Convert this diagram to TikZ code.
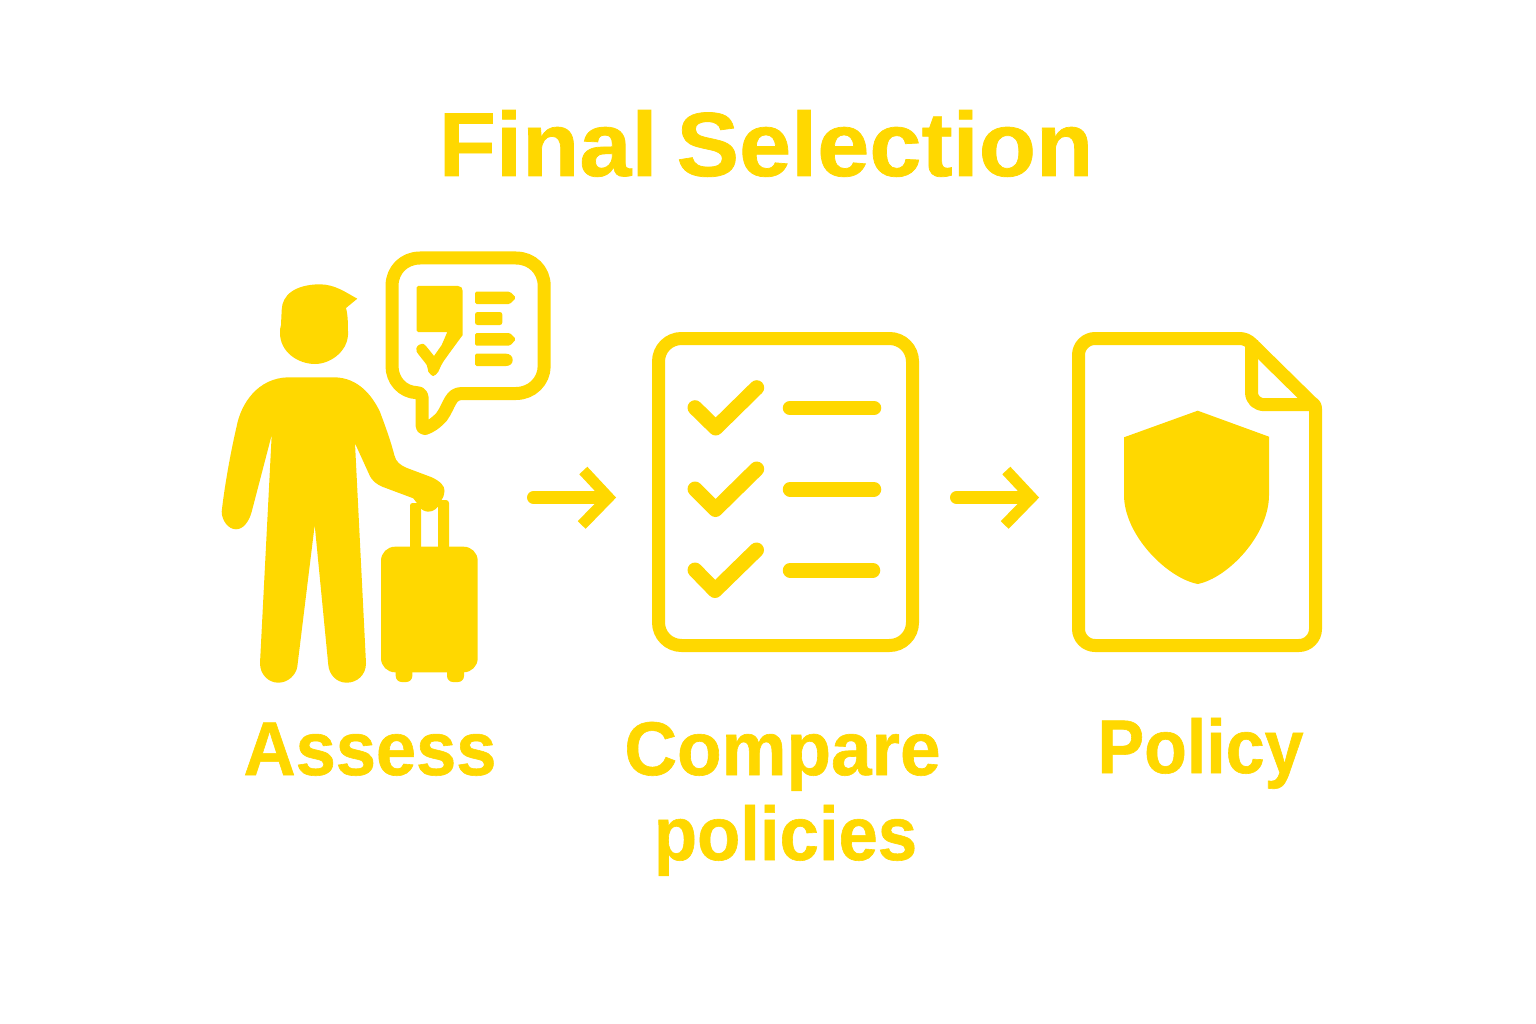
\documentclass[tikz,border=0pt]{standalone}
\usepackage{fontspec}
\setmainfont{Liberation Sans}[BoldFont={Liberation Sans Bold}]
\newfontfamily\labelfont{Liberation Sans Bold}[FakeBold=0.8]
\usetikzlibrary{calc}
\definecolor{gold}{HTML}{FFD800}
\newcommand{\capstretch}[1]{\addfontfeature{FakeStretch=#1}}
\tikzset{
  outline/.style={draw=gold,line width=13pt,line join=round},
  barline/.style={draw=gold,line width=14.5pt,line cap=round},
  tick/.style={draw=gold,line width=15pt,line cap=round,line join=round},
  shaft/.style={draw=gold,line width=13pt,line cap=round},
  chevron/.style={draw=gold,line width=11pt,line cap=butt,line join=miter},
  caption/.style={text=gold,inner sep=0pt,anchor=base,align=center,font=\labelfont\fontsize{76}{86}\selectfont},
}
\begin{document}
\begin{tikzpicture}[x=1pt,y=-1pt]
\useasboundingbox (0,0) rectangle (1536,1024);
% title
\node[caption,font=\labelfont\fontsize{91}{100}\selectfont] (title) at (766,176) {\capstretch{1.03}Final\hspace{-7pt} Selection};
% head
\fill[gold] (281,325) -- (281.7,310) .. controls (282,295) and (295,284.5) .. (320,284.3)
  .. controls (335,284.5) and (345,292) .. (357.3,298.7) -- (346,308)
  .. controls (348,315) and (348,325) .. (348,335)
  .. controls (347,352) and (330,364) .. (315,364)
  .. controls (298,364) and (280,352) .. (280,333)
  .. controls (280,330) and (280,328) .. (281,325) -- cycle;
% body
\fill[gold] (288.3,377.3) -- (335,377.3) .. controls (358,378) and (372,395) .. (380,412)
  .. controls (386,428) and (391,442) .. (394.3,455)
  .. controls (396,462) and (400,465) .. (407,468) -- (431,477)
  .. controls (440,481) and (445,486) .. (444.5,491)
  .. controls (444,496) and (443,498) .. (441,501)
  .. controls (439,508) and (433,512) .. (428,511.7)
  .. controls (424,511.5) and (421,509) .. (420.7,508) -- (413.3,498.3) -- (383,487)
  .. controls (376,484) and (372,481) .. (369,474) -- (355,443.3) -- (366,663.3)
  .. controls (366,675) and (357,682.7) .. (346.7,682.7)
  .. controls (336,682.7) and (329,674) .. (328.3,665) -- (314.7,525) -- (297.3,666.7)
  .. controls (296,675) and (288,682.7) .. (278.3,682.7)
  .. controls (268,682.7) and (260,674) .. (260,663.3) -- (271.7,435) -- (251.7,511.7)
  .. controls (249,522) and (243,529.3) .. (236,529.3)
  .. controls (228,529.3) and (221.7,520) .. (221.7,511.7)
  .. controls (224,490) and (230,455) .. (236.5,427)
  .. controls (241,403) and (258,378) .. (288.3,377.3) -- cycle;
% suitcase handle and case
\fill[gold,rounded corners=2.5pt] (410,503) rectangle (421,552);
\fill[gold,rounded corners=3pt] (438,500) rectangle (449,552);
\fill[gold,rounded corners=14pt] (381,546.7) rectangle (477.7,672.3);
\fill[gold,rounded corners=6pt] (395.7,660) rectangle (412.3,682);
\fill[gold,rounded corners=6pt] (447,660) rectangle (464,682);
% speech bubble
\draw[outline] (422,396.7) .. controls (422,394) and (420,393) .. (416.7,392.7)
  .. controls (402,392) and (392,380) .. (392,366)
  -- (392,286) .. controls (392,270) and (404,258) .. (420,258)
  -- (516,258) .. controls (532,258) and (544.2,270) .. (544.2,286)
  -- (544.2,366) .. controls (544.2,381) and (532,393.5) .. (516,393.5)
  -- (462,393.5) .. controls (450,393.5) and (450,405) .. (441.7,416.7)
  .. controls (436,423) and (430,427) .. (425,428.5)
  .. controls (423,428.5) and (422,427) .. (422,425) -- cycle;
% bubble contents
\fill[gold] (418,286) -- (458,286) .. controls (461,286) and (462.7,288) .. (462.7,291) -- (462.7,335)
  -- plot[smooth,tension=.5] coordinates {(462.7,335) (443.3,361.7) (438.3,371.7) (433.3,376) (428.3,371.7) (426.7,365) (416.7,351.7) (417.5,346) (421.7,344) (425,345) (434,356)}
  -- (441.7,345) -- (447.3,332) -- (418,332) .. controls (417,332) and (416.7,331.5) .. (416.7,330.5) -- (416.7,287.5) .. controls (416.7,286.5) and (417,286) .. (418,286) -- cycle;
\fill[gold,rounded corners=1.5pt] (475,291.7) -- (510,291.7) -- (516,297.7) -- (510,304) -- (475,304) -- cycle;
\fill[gold,rounded corners=2.5pt] (475,312) rectangle (502.3,325);
\fill[gold,rounded corners=1.5pt] (475,333) -- (510,333) -- (516,339.3) -- (510,345.7) -- (475,345.7) -- cycle;
\fill[gold] (476.5,353.7) -- (506,353.7) .. controls (510,353.7) and (512.7,356.5) .. (512.7,360) .. controls (512.7,363.5) and (510,366) .. (506,366) -- (476.5,366) .. controls (475.5,366) and (475,365.5) .. (475,364.5) -- (475,355.2) .. controls (475,354.2) and (475.5,353.7) .. (476.5,353.7) -- cycle;
% arrow 1
\coordinate (arrowAstart) at (533.5,497.5);
\coordinate (arrowAtip) at (604,497.5);
\draw[shaft] (arrowAstart) -- (arrowAtip);
\draw[chevron] ($(arrowAtip)+(-20.7,-27)$) -- ($(arrowAtip)+(4.5,0)$) -- ($(arrowAtip)+(-22.3,27.5)$);
% checklist
\draw[outline,rounded corners=23pt] (658.5,338.5) rectangle (912.5,645.5);
\draw[tick] (695,407.7) -- (715.7,428) -- (756.7,387.7);
\draw[tick] (695,489) -- (715.5,509.5) -- (756.7,469);
\draw[tick] (695,570) -- (715,590.5) -- (756.5,550);
\draw[barline] (790,408) -- (874,408);
\draw[barline] (790,489.3) -- (874,489.3);
\draw[barline] (790,570.3) -- (873,570.3);
% arrow 2
\coordinate (arrowBstart) at (956.5,497.5);
\coordinate (arrowBtip) at (1027,497.5);
\draw[shaft] (arrowBstart) -- (arrowBtip);
\draw[chevron] ($(arrowBtip)+(-20.7,-27)$) -- ($(arrowBtip)+(4.5,0)$) -- ($(arrowBtip)+(-22.3,27.5)$);
% policy document
\draw[outline] (1095,338.5) -- (1239,338.5) .. controls (1244,338.5) and (1248,340) .. (1252,344)
  -- (1311,402) .. controls (1314,404.5) and (1315.5,405) .. (1315.5,409)
  -- (1315.5,629) .. controls (1315.5,638) and (1308,645.5) .. (1299,645.5)
  -- (1095,645.5) .. controls (1086,645.5) and (1078.5,638) .. (1078.5,629)
  -- (1078.5,355) .. controls (1078.5,346) and (1086,338.5) .. (1095,338.5) -- cycle;
\draw[outline] (1251.5,340) -- (1251.5,392) .. controls (1251.5,400) and (1257,404.7) .. (1265,404.7) -- (1313,404.7);
\fill[gold] (1197.7,410.7) -- (1269,436.7) -- (1269,495)
  .. controls (1269,535) and (1228,578) .. (1197.7,584)
  .. controls (1167,578) and (1124,535) .. (1124,495)
  -- (1124,437.3) -- cycle;
% captions
\node[caption] (assess) at (370,775) {\capstretch{0.95}Assess};
\node[caption] (compare) at (782.5,775) {\capstretch{0.96}Compare};
\node[caption] (policies) at (785.5,860) {\capstretch{0.93}policies};
\node[caption] (policy) at (1200.5,773) {\capstretch{0.92}Policy};
\end{tikzpicture}
\end{document}
